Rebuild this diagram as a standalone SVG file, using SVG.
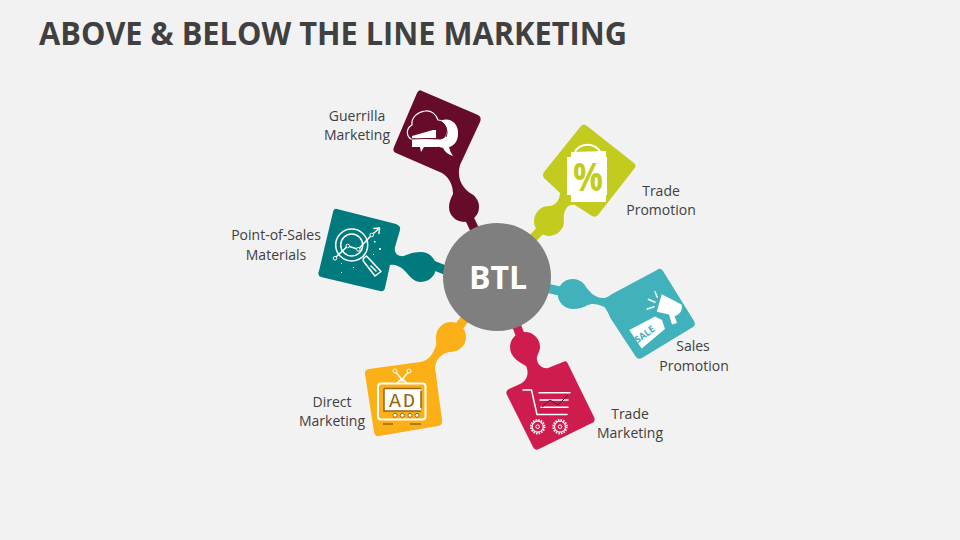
<svg xmlns="http://www.w3.org/2000/svg" width="960" height="540" viewBox="0 0 960 540">
<style>
.lbl{font:14px "Open Sans","Liberation Sans",sans-serif;fill:#404040;text-anchor:middle}
.w{fill:none;stroke:#fff;stroke-width:1.5;stroke-linecap:round;stroke-linejoin:round}
.wf{fill:#fff}
.stem{stroke-width:9;fill:none}
</style>
<rect width="960" height="540" fill="#f2f2f2"/>
<text id="title" x="39" y="45" font-family="'Open Sans','Liberation Sans',sans-serif" font-weight="700" font-size="32" fill="#404040" textLength="588" lengthAdjust="spacingAndGlyphs">ABOVE &amp; BELOW THE LINE MARKETING</text>
<g id="connectors">
<line class="stem" x1="464" y1="207" x2="497" y2="277" stroke="#660b29"/>
<line class="stem" x1="549" y1="221" x2="497" y2="277" stroke="#c3cb1f"/>
<line class="stem" x1="430" y1="264" x2="465" y2="278" stroke="#007a7c"/>
<line class="stem" x1="573" y1="294" x2="497" y2="277" stroke="#41b1bc"/>
<line class="stem" x1="451" y1="337" x2="497" y2="277" stroke="#fbb017"/>
<line class="stem" x1="525" y1="347" x2="497" y2="277" stroke="#cd1c4d"/>
</g>
<g id="guerrilla">
<path fill="#660b29" d="M422,91 L478,115 Q482,117 480,122 L460,165 C457,175 460,186 470,193 C476,196 479,201 479,207 A15,15 0 1 1 449,207 C449,202 451,198 453,194 C453,186 450,178 442,173 L396,153 Q392,151 394,147 L417,93 Q419,89 422,91 Z"/>
<path class="wf" d="M437,124 A12,13 0 0 1 458,134 C458,141 454,146 449,147 Q450,152 453,156 Q446,154 443,148 L436,146 Z"/>
<path class="wf" d="M412,140 L438,140 L438,147 L424,147 L421,152 L420,147 L412,147 Z"/>
<path d="M411,139 C406,136 406,128 412,125 C411,117 418,112 425,111 C431,110 436,114 438,120 C444,120 449,127 447,133 C446,138 443,140 440,140 Z" fill="#660b29" stroke="#fff" stroke-width="1.200"/>
<path class="wf" d="M412,136 L433,130 L436,130 L436,138 L412,138 Z"/>
<path d="M438,122 C445,124 449,130 446,137" fill="none" stroke="#660b29" stroke-width="1"/>
</g>
<g id="trade-promotion">
<path fill="#c3cb1f" d="M581,126 Q584,123 587,126 L634,163 Q637,166 634,169 L598,215 Q595,218 592,216 L575,205 Q569,204 566,209 C563,213 564,218 564,221 A15,15 0 1 1 549,206 C555,206 560,200 560,193 Q557,190 544,178 Q542,175 544,172 Z"/>
<path class="wf" d="M571,157 L571,152 L606,151 L606,157 L607,157 L607,195 L606,195 L606,202 L571,202 L571,195 L567,195 L567,157 Z"/>
<path d="M575,152 A13,10 0 0 1 600,152" fill="none" stroke="#fff" stroke-width="2"/>
<text x="573" y="191" font-family="'Open Sans','Liberation Sans',sans-serif" font-weight="700" font-size="40" fill="#c3cb1f" textLength="30" lengthAdjust="spacingAndGlyphs">%</text>
</g>
<g id="point-of-sales">
<path fill="#007a7c" d="M337,209 L396,224 Q401,226 400,230 L395,247 C394,252 397,256 401,256 C405,257 409,252 421,252 A15,15 0 1 1 421,282 C413,282 410,276 404,270 C400,266 394,264 390,265 L385,288 Q384,292 380,291 L321,277 Q317,275 319,271 L333,212 Q334,208 337,209 Z"/>
<circle class="w" cx="351.700" cy="245" r="16"/>
<circle class="w" cx="351.700" cy="245" r="11" stroke-width="1"/>
<polyline class="w" points="335,258 347.700,246 358.300,249.300 371.700,235 379,228.500" stroke-width="1"/>
<circle cx="347.700" cy="246" r="1.800" fill="#007a7c" stroke="#fff"/>
<circle cx="358.300" cy="249.300" r="1.800" fill="#007a7c" stroke="#fff"/>
<circle cx="371.700" cy="235" r="1.800" fill="#007a7c" stroke="#fff"/>
<circle cx="335" cy="258.300" r="1.800" fill="#007a7c" stroke="#fff"/>
<path class="w" d="M374,228.500 L379.500,228 L379,233.500" stroke-width="1"/>
<path class="w" d="M363.300,258.300 L366.500,256 L381,271.500 L375,276 L363.300,261 Z" stroke-width="1.200"/>
<path class="w" d="M371,266 L376,271" stroke-width="1"/>
<rect x="374" y="241" width="1.500" height="1.500" class="wf"/><rect x="379" y="248" width="2" height="2" class="wf"/><rect x="373" y="254" width="1" height="1" class="wf"/><rect x="341" y="263" width="1" height="1" class="wf"/><rect x="341" y="272" width="1" height="1" class="wf"/><rect x="353" y="267" width="1" height="1" class="wf"/>
</g>
<g id="sales-promotion">
<path fill="#41b1bc" d="M657,270 Q660,267 663,271 L694,321 Q696,325 693,327 L642,358 Q638,360 636,357 L611,319 C608,313 606,307 602,306 C596,304 592,303 586,306 C582,308 578,309 573,309 A15,15 0 1 1 586,287 C590,292 595,298 603,298 C607,298 609,296 612,294 Z"/>
<path class="wf" d="M629.300,330 L655,316.500 L662,320 L665,329 L641.700,348.500 Z"/>
<text transform="translate(646.500,337) rotate(-36)" font-family="'Open Sans','Liberation Sans',sans-serif" font-weight="700" font-size="9.500" fill="#41b1bc" text-anchor="middle">SALE</text>
<path class="wf" d="M661.700,294.300 L681.500,304.500 C683,310 680,315 674.500,316 L677,323 L672,324.500 L669,314.500 L656.700,311.700 Z"/>
<path class="w" d="M655,291.700 L657.300,297.300 M648.300,299.300 L655,302.300 M647.300,309 L654,306.700" stroke-width="2"/>
</g>
<g id="trade-marketing">
<path fill="#cd1c4d" d="M563,362 Q567,360 568,364 L594,417 Q596,421 592,423 L539,449 Q535,451 533,447 L507,395 Q505,391 509,389 L520,384 C528,380 529,372 526,366 C520,362 510,358 510,347 A15,15 0 1 1 540,347 C540,352 536,356 537,360 C538,366 544,369 548,368 Z"/>
<path class="w" d="M523,390 L531.500,390 L537,414.500 L567,414.500" stroke-width="2.400"/>
<path class="w" d="M539,392.800 L570,392.800 M540,400 L568,400 M541,407.300 L568,407.300" stroke-width="2"/>
<polyline points="542,407 550,400 558,405 568,395" fill="none" stroke="#660b29" stroke-width="1"/>
<g fill="none" stroke="#fff">
<circle cx="537.700" cy="426.700" r="6.800" stroke-width="1.800" stroke-dasharray="1.500 1.200"/><circle cx="537.700" cy="426.700" r="5.500" stroke-width="1.200"/><circle cx="537.700" cy="426.700" r="1.800"/>
<circle cx="560" cy="426.700" r="6.800" stroke-width="1.800" stroke-dasharray="1.500 1.200"/><circle cx="560" cy="426.700" r="5.500" stroke-width="1.200"/><circle cx="560" cy="426.700" r="1.800"/>
</g>
</g>
<g id="direct-marketing">
<path fill="#fbb017" d="M369,369 L420,362 C427,361 432,356 435,348 C437,345 436,341 436,337 A15,15 0 1 1 451,352 C444,352 436,358 435,367 L442,420 Q443,425 438,426 L379,436 Q375,437 374,432 L365,374 Q364,370 369,369 Z"/>
<rect x="378" y="383.500" width="47.500" height="36" rx="3" fill="none" stroke="#fff" stroke-width="2"/>
<rect x="384" y="389" width="37" height="22" fill="#fff"/>
<path d="M384,388.500 L421,388.500 M384,388.500 L384,411 L421,411 M421,391 L421,408" fill="none" stroke="#94690f" stroke-width="1.500"/>
<text x="403" y="407" font-family="'Liberation Mono',monospace" font-size="20" fill="#94690f" text-anchor="middle" letter-spacing="2">AD</text>
<g fill="#fff" stroke="#94690f"><circle cx="395" cy="415.300" r="2"/><circle cx="402.300" cy="415.300" r="2"/><circle cx="410" cy="415.300" r="2"/><circle cx="417" cy="415.300" r="2"/></g>
<path d="M383,424 L393,424 M410,424 L421,424" stroke="#94690f" stroke-width="1.500"/>
<path class="w" d="M395,371 L403,381 M409,371 L401,381 M397.500,383 Q402,376 406.500,383"/>
<circle cx="395" cy="371" r="2" fill="#fbb017" stroke="#fff"/><circle cx="409" cy="371" r="2" fill="#fbb017" stroke="#fff"/>
</g>
<g id="btl">
<circle cx="497" cy="277" r="54" fill="#7f7f7f"/>
<text x="498" y="289" font-family="'Open Sans','Liberation Sans',sans-serif" font-weight="700" font-size="32" fill="#fff" text-anchor="middle">BTL</text>
</g>
<g id="labels">
<text class="lbl" x="357" y="121">Guerrilla</text><text class="lbl" x="357" y="140">Marketing</text>
<text class="lbl" x="661" y="196">Trade</text><text class="lbl" x="661" y="215">Promotion</text>
<text class="lbl" x="276" y="240">Point-of-Sales</text><text class="lbl" x="276" y="260">Materials</text>
<text class="lbl" x="693" y="351">Sales</text><text class="lbl" x="694" y="371">Promotion</text>
<text class="lbl" x="332" y="407">Direct</text><text class="lbl" x="332" y="426">Marketing</text>
<text class="lbl" x="630" y="419">Trade</text><text class="lbl" x="630" y="438">Marketing</text>
</g>
</svg>
